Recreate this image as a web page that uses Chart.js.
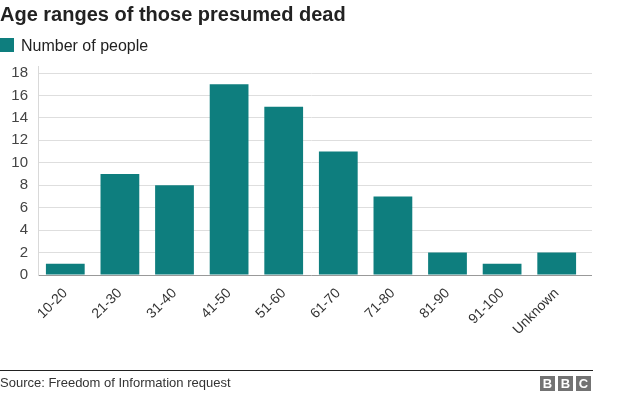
<!DOCTYPE html>
<html>
<head>
<meta charset="utf-8">
<script src="https://cdn.jsdelivr.net/npm/chart.js@4.4.0/dist/chart.umd.min.js"></script>
<style>
  html, body { margin: 0; padding: 0; background: #fff; }
  #wrap { position: relative; width: 624px; height: 395px; font-family: "Liberation Sans", Arial, sans-serif; color: #222; }
  #chart { position: absolute; left: 0; top: 0; }
  .title { position: absolute; left: 0; top: 3px; font-size: 20px; font-weight: bold; color: #222; }
  .legend { position: absolute; left: 0; top: 37px; font-size: 16px; color: #222; }
  .legend .sw { display: inline-block; width: 14px; height: 14px; background: #0e7e7e; vertical-align: -1px; margin-right: 7px; }
  .rule { position: absolute; left: 0; top: 370px; width: 593px; height: 1px; background: #222; }
  .source { position: absolute; left: 0; top: 375px; font-size: 13px; color: #333; }
  .bbc { position: absolute; left: 540px; top: 374px; }
  .bbc span { display: inline-block; width: 15px; height: 15px; margin-right: 3px; background: #737373; color: #fff; font-size: 13px; font-weight: bold; text-align: center; line-height: 15px; }
</style>
</head>
<body>
<div id="wrap">
  <canvas id="chart" width="624" height="395"></canvas>
  <div class="title">Age ranges of those presumed dead</div>
  <div class="legend"><span class="sw"></span>Number of people</div>
  <div class="rule"></div>
  <div class="source">Source: Freedom of Information request</div>
  <div class="bbc"><span>B</span><span>B</span><span>C</span></div>
</div>
<script>
// ── DATA ──────────────────────────────────────────────
const ageGroups = ["10-20", "21-30", "31-40", "41-50", "51-60", "61-70", "71-80", "81-90", "91-100", "Unknown"];
const people    = [1, 9, 8, 17, 15, 11, 7, 2, 1, 2];
const yTicks    = [0, 2, 4, 6, 8, 10, 12, 14, 16, 18];

const barColor = "#0e7e7e";
const gridEnd  = 592;   // gridlines run a bit past the last bar band

// same pixel snapping Chart.js uses for 1px lines
const snap = (p) => Math.round(p - 0.5) + 0.5;

// gridlines + x axis go on past the last band, y axis line pokes above 18
const axisExtend = {
  id: "axisExtend",
  beforeDatasetsDraw(chart) {
    const { ctx, chartArea, scales } = chart;
    ctx.save();
    ctx.lineWidth = 1;
    yTicks.forEach(v => {
      const y = snap(scales.y.getPixelForValue(v));
      ctx.strokeStyle = v === 0 ? "#999" : "#dedede";
      ctx.beginPath();
      ctx.moveTo(chartArea.right - 1, y);
      ctx.lineTo(gridEnd, y);
      ctx.stroke();
    });
    ctx.strokeStyle = "#d9d9d9";
    ctx.beginPath();
    ctx.moveTo(snap(chartArea.left), chartArea.top - 7);
    ctx.lineTo(snap(chartArea.left), chartArea.top);
    ctx.stroke();
    ctx.restore();
  }
};

new Chart(document.getElementById("chart").getContext("2d"), {
  type: "bar",
  data: {
    labels: ageGroups,
    datasets: [{
      label: "Number of people",
      data: people,
      backgroundColor: barColor,
      borderWidth: 0,
      barPercentage: 0.71,
      categoryPercentage: 1,
    }],
  },
  options: {
    responsive: false,
    animation: false,
    layout: { padding: { left: 0, right: 40, top: 73, bottom: 40 } },
    plugins: { legend: { display: false }, tooltip: { enabled: false } },
    scales: {
      x: {
        grid: { display: false, drawTicks: false },
        border: { color: "#999", width: 1 },
        ticks: {
          minRotation: 45, maxRotation: 45, padding: 10,
          font: { family: "Liberation Sans", size: 14 }, color: "#333",
        },
        afterFit: (axis) => { axis.height = 80; },
      },
      y: {
        min: 0, max: 18,
        afterBuildTicks: (axis) => { axis.ticks = yTicks.map(v => ({ value: v })); },
        grid: { color: "#dedede", drawTicks: false },
        border: { color: "#d9d9d9" },
        ticks: {
          padding: 10,
          font: { family: "Liberation Sans", size: 15 }, color: "#444",
        },
        afterFit: (axis) => { axis.width = 38; },
      },
    },
  },
  plugins: [axisExtend],
});
</script>
</body>
</html>
